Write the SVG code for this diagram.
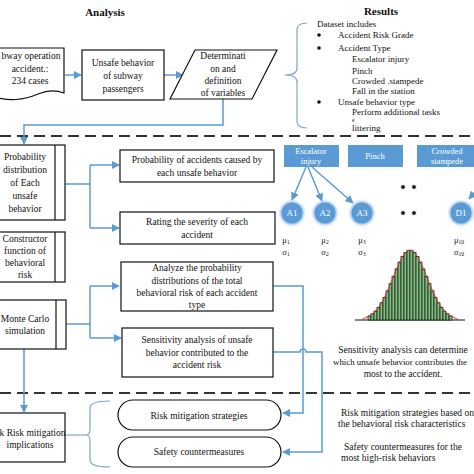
<svg xmlns="http://www.w3.org/2000/svg" width="474" height="474" viewBox="0 0 474 474">
<defs>
<style>
text{font-family:"Liberation Serif","Times New Roman",serif;fill:#111}
.t{font-size:9.5px;text-anchor:middle}
.r{font-size:9.5px}
.rs{font-size:9px}
.h{font-size:11px;font-weight:bold;text-anchor:middle}
.box{fill:#fff;stroke:#111;stroke-width:1.2}
.ln{fill:none;stroke:#5b9bd5;stroke-width:1.5}
.br{fill:none;stroke:#7ea6d3;stroke-width:1.2}
.dash{stroke:#333;stroke-width:2;stroke-dasharray:11 6}
.bl{fill:#5b9bd5}
.wt{fill:#fff;font-size:8.5px;text-anchor:middle}
.ct{fill:#fff;font-size:9px;text-anchor:middle}
.mu{font-size:8.5px;text-anchor:middle}
.bar{fill:#7fbf7f;stroke:#111;stroke-width:0.7}
</style>
<marker id="ar" viewBox="0 0 10 10" refX="9" refY="5" markerWidth="5.5" markerHeight="5.5" orient="auto"><path d="M0,0 L10,5 L0,10 Z" fill="#5b9bd5"/></marker>
<filter id="glow" x="-50%" y="-50%" width="200%" height="200%"><feGaussianBlur stdDeviation="1"/></filter>
</defs>
<rect width="474" height="474" fill="#fff"/>

<text class="h" x="105" y="16">Analysis</text>
<text class="h" x="381" y="15">Results</text>

<line class="dash" x1="0" y1="136" x2="474" y2="136"/>
<line class="dash" x1="0" y1="393" x2="474" y2="393"/>

<g id="connectors">
<line class="ln" x1="65" y1="75" x2="81" y2="75" marker-end="url(#ar)"/>
<line class="ln" x1="164" y1="75" x2="183" y2="75" marker-end="url(#ar)"/>
<polyline class="ln" points="223,99 223,125 24,125 24,144" marker-end="url(#ar)"/>
<polyline class="ln" points="65,184 90,184"/>
<polyline class="ln" points="90,165 90,228"/>
<line class="ln" x1="90" y1="165" x2="119" y2="165" marker-end="url(#ar)"/>
<line class="ln" x1="90" y1="228" x2="119" y2="228" marker-end="url(#ar)"/>
<polyline class="ln" points="65,324 90,324"/>
<polyline class="ln" points="90,286 90,338"/>
<line class="ln" x1="90" y1="286" x2="119" y2="286" marker-end="url(#ar)"/>
<line class="ln" x1="90" y1="338" x2="121" y2="338" marker-end="url(#ar)"/>
<line class="ln" x1="24" y1="349" x2="24" y2="412" marker-end="url(#ar)"/>
<polyline class="ln" points="273,286 303,286 303,413 283,413" marker-end="url(#ar)"/>
<path class="ln" d="M273,352 L300,352 A3,3 0 0 1 306,352 L322,352 L322,452 L283,452" marker-end="url(#ar)"/>
<line class="ln" x1="306" y1="167" x2="292" y2="200" marker-end="url(#ar)"/>
<line class="ln" x1="308" y1="167" x2="322" y2="201" marker-end="url(#ar)"/>
<line class="ln" x1="312" y1="167" x2="353" y2="203" marker-end="url(#ar)"/>
<line class="ln" x1="482" y1="184" x2="469" y2="199" marker-end="url(#ar)"/>
<path class="br" d="M307,23 Q297,23 297,30 L297,68 Q297,75 285,75 Q297,75 297,82 L297,121 Q297,128 307,128"/>
<line class="br" x1="65" y1="435" x2="86" y2="435"/>
<path class="br" d="M110,401 Q90,401 90,408 L90,429 Q90,435 86,435 Q90,435 90,441 L90,460 Q90,467 110,467"/>
</g>

<g id="n-accident">
<path class="box" d="M-10,48 L64,48 L64,93 C56,90 48,90 38,94 C24,100 10,102 -10,96 Z"/>
<text class="t" x="31" y="59">bway operation</text>
<text class="t" x="30" y="72">accident.:</text>
<text class="t" x="30" y="84">234 cases</text>
</g>

<g id="n-unsafe">
<rect class="box" x="82" y="50" width="82" height="50"/>
<text class="t" x="123" y="66">Unsafe behavior</text>
<text class="t" x="123" y="79">of subway</text>
<text class="t" x="123" y="92">passengers</text>
</g>

<g id="n-determination">
<path class="box" d="M195,50 L277,50 L252,99 L170,99 Z"/>
<text class="t" x="223" y="59">Determinati</text>
<text class="t" x="223" y="72">on and</text>
<text class="t" x="223" y="84">definition</text>
<text class="t" x="223" y="96">of variables</text>
</g>

<g id="n-results" class="rs">
<text x="317" y="27">Dataset includes</text>
<circle cx="319" cy="35" r="1.8" fill="#111"/>
<text x="338" y="38">Accident Risk Grade</text>
<circle cx="319" cy="48" r="1.8" fill="#111"/>
<text x="338" y="51">Accident Type</text>
<text x="352" y="62">Escalator injury</text>
<text x="352" y="74">Pinch</text>
<text x="352" y="84">Crowded .stampede</text>
<text x="352" y="93.5">Fall in the station</text>
<circle cx="319" cy="102" r="1.8" fill="#111"/>
<text x="338" y="105">Unsafe behavior type</text>
<text x="352" y="115">Perform additional tasks</text>
<text x="352" y="122" font-size="6">e</text>
<text x="352" y="131">littering</text>
</g>

<g id="n-probdist">
<rect class="box" x="-5" y="145" width="70" height="75"/>
<line x1="55" y1="145" x2="55" y2="220" stroke="#111" stroke-width="1.2"/>
<text class="t" x="25" y="160">Probability</text>
<text class="t" x="25" y="173">distribution</text>
<text class="t" x="25" y="186">of Each</text>
<text class="t" x="25" y="199">unsafe</text>
<text class="t" x="25" y="212">behavior</text>
</g>

<g id="n-constructor">
<rect class="box" x="-5" y="232" width="70" height="50"/>
<line x1="55" y1="232" x2="55" y2="282" stroke="#111" stroke-width="1.2"/>
<text class="t" x="25" y="242">Constructor</text>
<text class="t" x="25" y="254">function  of</text>
<text class="t" x="25" y="266">behavioral</text>
<text class="t" x="25" y="278">risk</text>
</g>

<g id="n-montecarlo">
<rect class="box" x="-5" y="300" width="71" height="49"/>
<line x1="56" y1="300" x2="56" y2="349" stroke="#111" stroke-width="1.2"/>
<text class="t" x="25" y="322">Monte Carlo</text>
<text class="t" x="25" y="334">simulation</text>
</g>

<g id="n-implications">
<rect class="box" x="-5" y="413" width="70" height="49"/>
<text class="t" x="32.5" y="436" font-size="8.5">k Risk mitigation</text>
<text class="t" x="30" y="448">implications</text>
</g>

<g id="n-probacc">
<rect class="box" x="120" y="150" width="154" height="32"/>
<text class="t" x="197" y="163">Probability of accidents caused by</text>
<text class="t" x="197" y="176">each unsafe behavior</text>
</g>

<g id="n-rating">
<rect class="box" x="120" y="212" width="155" height="32"/>
<text class="t" x="197" y="225">Rating the  severity of each</text>
<text class="t" x="197" y="238">accident</text>
</g>

<g id="n-analyze">
<rect class="box" x="121" y="262" width="152" height="49"/>
<text class="t" x="197" y="271">Analyze the probability</text>
<text class="t" x="197" y="284">distributions of the total</text>
<text class="t" x="197" y="296">behavioral risk of each accident</text>
<text class="t" x="197" y="308">type</text>
</g>

<g id="n-sensitivity">
<rect class="box" x="122" y="328" width="151" height="49"/>
<text class="t" x="197" y="343">Sensitivity analysis of unsafe</text>
<text class="t" x="197" y="356">behavior contributed to the</text>
<text class="t" x="197" y="368">accident risk</text>
</g>

<g id="n-strategies">
<rect class="box" x="118" y="400" width="163" height="30" rx="15"/>
<text class="t" x="199" y="419">Risk mitigation strategies</text>
</g>

<g id="n-counter">
<rect class="box" x="118" y="437" width="163" height="30" rx="15"/>
<text class="t" x="199" y="455">Safety countermeasures</text>
</g>

<g id="n-escalator">
<rect class="bl" x="284" y="145" width="55" height="22"/>
<text class="wt" x="311" y="154">Escalator</text>
<text class="wt" x="311" y="164">injury</text>
</g>
<g id="n-pinch">
<rect class="bl" x="348" y="145" width="55" height="22"/>
<text class="wt" x="375" y="159">Pinch</text>
</g>
<g id="n-crowded">
<rect class="bl" x="417" y="145" width="62" height="22"/>
<text class="wt" x="447" y="154">Crowded</text>
<text class="wt" x="447" y="164">stampede</text>
</g>

<g id="n-A1"><circle cx="292" cy="213" r="12" fill="#9cc3ea" filter="url(#glow)"/><circle cx="292" cy="213" r="10.5" class="bl"/><text class="ct" x="292" y="216">A1</text></g>
<g id="n-A2"><circle cx="325" cy="213" r="12" fill="#9cc3ea" filter="url(#glow)"/><circle cx="325" cy="213" r="10.5" class="bl"/><text class="ct" x="325" y="216">A2</text></g>
<g id="n-A3"><circle cx="362" cy="213" r="12" fill="#9cc3ea" filter="url(#glow)"/><circle cx="362" cy="213" r="10.5" class="bl"/><text class="ct" x="362" y="216">A3</text></g>
<g id="n-D1"><circle cx="461" cy="213" r="12" fill="#9cc3ea" filter="url(#glow)"/><circle cx="461" cy="213" r="10.5" class="bl"/><text class="ct" x="461" y="216">D1</text></g>

<g id="dots" fill="#222" stroke="#fff" stroke-width="0.6">
<circle cx="403" cy="187" r="2.3"/><circle cx="414" cy="187" r="2.3"/>
<circle cx="403" cy="213" r="2.3"/><circle cx="414" cy="213" r="2.3"/>
</g>

<g id="params">
<text class="mu" x="286" y="243">μ<tspan font-size="5.5" dy="1">1</tspan></text>
<text class="mu" x="286" y="255">σ<tspan font-size="5.5" dy="1">1</tspan></text>
<text class="mu" x="325" y="243">μ<tspan font-size="5.5" dy="1">2</tspan></text>
<text class="mu" x="325" y="255">σ<tspan font-size="5.5" dy="1">2</tspan></text>
<text class="mu" x="362" y="243">μ<tspan font-size="5.5" dy="1">3</tspan></text>
<text class="mu" x="362" y="255">σ<tspan font-size="5.5" dy="1">3</tspan></text>
<text class="mu" x="459" y="243">μ<tspan font-size="5.5" dy="1">10</tspan></text>
<text class="mu" x="459" y="255">σ<tspan font-size="5.5" dy="1">10</tspan></text>
</g>

<g id="histogram">
<line x1="355" y1="320" x2="465" y2="320" stroke="#111" stroke-width="1"/>
<rect class="bar" x="368" y="315.9" width="3" height="4.1"/>
<rect class="bar" x="371" y="313.8" width="3" height="6.2"/>
<rect class="bar" x="374" y="311.1" width="3" height="8.9"/>
<rect class="bar" x="377" y="307.4" width="3" height="12.6"/>
<rect class="bar" x="380" y="302.8" width="3" height="17.2"/>
<rect class="bar" x="383" y="297.3" width="3" height="22.7"/>
<rect class="bar" x="386" y="290.8" width="3" height="29.2"/>
<rect class="bar" x="389" y="283.7" width="3" height="36.3"/>
<rect class="bar" x="392" y="276.3" width="3" height="43.7"/>
<rect class="bar" x="395" y="268.9" width="3" height="51.1"/>
<rect class="bar" x="398" y="262.2" width="3" height="57.8"/>
<rect class="bar" x="401" y="256.5" width="3" height="63.5"/>
<rect class="bar" x="404" y="252.4" width="3" height="67.6"/>
<rect class="bar" x="407" y="250.3" width="3" height="69.7"/>
<rect class="bar" x="410" y="250.3" width="3" height="69.7"/>
<rect class="bar" x="413" y="252.4" width="3" height="67.6"/>
<rect class="bar" x="416" y="256.5" width="3" height="63.5"/>
<rect class="bar" x="419" y="262.2" width="3" height="57.8"/>
<rect class="bar" x="422" y="268.9" width="3" height="51.1"/>
<rect class="bar" x="425" y="276.3" width="3" height="43.7"/>
<rect class="bar" x="428" y="283.7" width="3" height="36.3"/>
<rect class="bar" x="431" y="290.8" width="3" height="29.2"/>
<rect class="bar" x="434" y="297.3" width="3" height="22.7"/>
<rect class="bar" x="437" y="302.8" width="3" height="17.2"/>
<rect class="bar" x="440" y="307.4" width="3" height="12.6"/>
<rect class="bar" x="443" y="311.1" width="3" height="8.9"/>
<rect class="bar" x="446" y="313.8" width="3" height="6.2"/>
<rect class="bar" x="449" y="315.9" width="3" height="4.1"/>
<polyline fill="none" stroke="#d03030" stroke-width="1" points="362,319.5 369.5,315.9 372.5,313.8 375.5,311.1 378.5,307.4 381.5,302.8 384.5,297.3 387.5,290.8 390.5,283.7 393.5,276.3 396.5,268.9 399.5,262.2 402.5,256.5 405.5,252.4 408.5,250.3 411.5,250.3 414.5,252.4 417.5,256.5 420.5,262.2 423.5,268.9 426.5,276.3 429.5,283.7 432.5,290.8 435.5,297.3 438.5,302.8 441.5,307.4 444.5,311.1 447.5,313.8 450.5,315.9 458,319.5"/>
</g>

<g id="n-sens-text" class="r" text-anchor="middle">
<text x="403" y="353">Sensitivity analysis can determine</text>
<text x="400" y="365" font-size="8.8">which unsafe behavior contributes the</text>
<text x="403" y="377">most to the accident.</text>
</g>

<g id="n-bottom-text" class="r">
<text x="341" y="416">Risk mitigation strategies based on</text>
<text x="338" y="427">the behavioral risk characteristics</text>
<text x="344" y="450">Safety countermeasures for the</text>
<text x="341" y="461">most high-risk behaviors</text>
</g>
</svg>
